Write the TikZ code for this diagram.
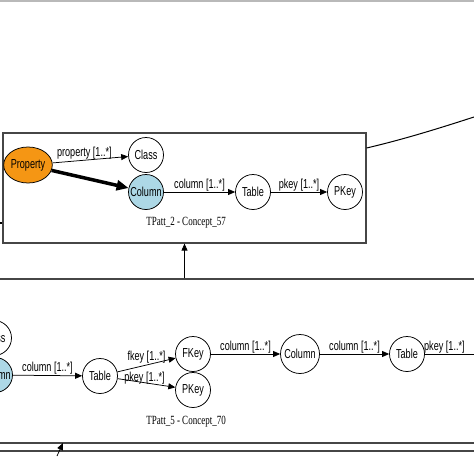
\documentclass[tikz,border=0pt]{standalone}
\usepackage{fontspec}
\setmainfont{Liberation Serif}
\newfontfamily\narrowsans{Liberation Sans}[FakeStretch=0.7]
\newfontfamily\narrowserif{Liberation Serif}[FakeStretch=0.72]
\usetikzlibrary{arrows.meta,shapes.geometric}

\tikzset{every picture/.style={line width=0.75pt}}
\tikzset{
  concept/.style={circle, draw, minimum size=35pt, inner sep=0pt, font=\narrowsans\fontsize{13}{14}\selectfont},
  rel/.style={-{Triangle[length=7pt,width=6pt]}},
  rellbl/.style={font=\narrowsans\fontsize{13}{14}\selectfont, inner sep=0.5pt},
  pattbox/.style={draw={rgb,255:red,70;green,70;blue,70}, line width=1.2pt, inner sep=0pt},
  pattlbl/.style={font=\narrowserif\fontsize{12.5}{14}\selectfont, inner sep=0pt}
}
\definecolor{propfill}{RGB}{245,150,20}
\definecolor{colfill}{RGB}{173,216,230}

\begin{document}
\begin{tikzpicture}[x=1pt,y=1pt,yscale=-1,xscale=1]
\useasboundingbox (0,0) rectangle (474,474);
\clip (0,0) rectangle (474,474);

%Straight Lines: top border
\draw [color={rgb, 255:red, 185; green, 185; blue, 185 }, line width=2pt] (0,1) -- (474,1);

%Shape: pattern boxes
\node [pattbox, minimum width=363pt, minimum height=110pt] (tpatt2) at (184.5,188) {};
\node [pattbox, minimum width=500pt, minimum height=164pt] (tpatt5) at (240,361) {};
\node [pattbox, minimum width=500pt, minimum height=98pt] (tpatt9) at (240,500) {};

% Text Node
\node [pattlbl] (cap2) at (186,223) {TPatt\_2 - Concept\_57};
\node [pattlbl] (cap5) at (186,422) {TPatt\_5 - Concept\_70};

%Box 1 nodes
\node [concept, ellipse, minimum width=45pt, minimum height=36pt, fill=propfill] (prop1) at (28,165) {Property};
\node [concept] (cls1) at (146,155) {Class};
\node [concept, fill=colfill] (col1) at (146,192) {Column};
\node [concept] (tab1) at (253,192) {Table};
\node [concept] (pk1) at (345,192) {PKey};

\draw [rel] (prop1) -- node [rellbl, above, xshift=-6pt] {property [1..*]} (cls1);
\draw [-{Triangle[length=12pt,width=10pt]}, line width=3.5pt] (prop1) -- (col1);
\draw [rel] (col1) -- node [rellbl, above] {column [1..*]} (tab1);
\draw [rel] (tab1) -- node [rellbl, above] {pkey [1..*]} (pk1);

%Box 2 nodes
\node [concept] (cls2) at (-6,338) {Class};
\node [concept, fill=colfill] (col2) at (-5,375) {Column};
\node [concept] (tab2) at (100,376) {Table};
\node [concept] (fk2) at (193,354) {FKey};
\node [concept] (pk2) at (193,390) {PKey};
\node [concept, minimum width=39pt] (col3) at (300,354) {Column};
\node [concept] (tab3) at (407,354) {Table};
\coordinate (pkout) at (490,354);

\draw [rel] (col2) -- node [rellbl, above] {column [1..*]} (tab2);
\draw [rel] (tab2) -- node [rellbl, above, yshift=1pt] {fkey [1..*]} (fk2);
\draw [rel] (tab2) -- node [rellbl, above, xshift=-2pt, yshift=-2pt] {pkey [1..*]} (pk2);
\draw [rel] (fk2) -- node [rellbl, above] {column [1..*]} (col3);
\draw [rel] (col3) -- node [rellbl, above] {column [1..*]} (tab3);
\draw (tab3) -- node [rellbl, above, pos=0.3] {pkey [1..*]} (pkout);

%Straight Lines between boxes
\draw [rel] (tpatt2.south |- tpatt5.north) -- (tpatt2.south);
\coordinate (upin) at (57,456);
\draw [rel] (upin) -- (63,443);
\coordinate (leftin) at (0,223);
\draw [line width=1.5pt] (leftin) -- (tpatt2.west |- leftin);
%Curve leaving box 1
\coordinate (curvout) at (474,117);
\draw [line width=1pt] (tpatt2.east |- 0,148) .. controls (405,139) and (440,128) .. (curvout);

\end{tikzpicture}
\end{document}
